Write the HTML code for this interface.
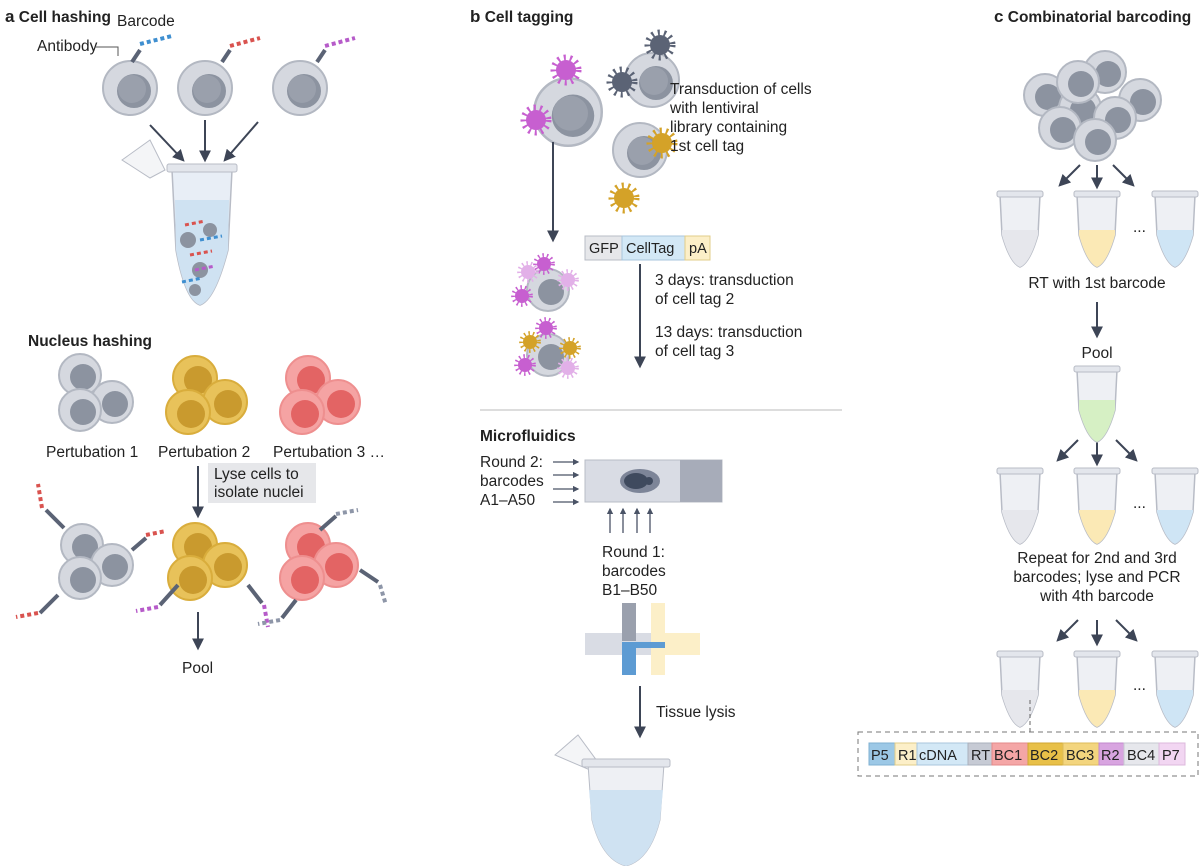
<!DOCTYPE html>
<html><head><meta charset="utf-8"><style>
html,body{margin:0;padding:0;background:#fff}
svg{display:block;font-family:"Liberation Sans",sans-serif;font-size:15.5px;fill:#222}
.b{font-weight:bold;font-size:15.5px}
</style></head><body>
<svg width="1200" height="866" viewBox="0 0 1200 866" xmlns="http://www.w3.org/2000/svg">
<defs>
<marker id="ah" viewBox="0 0 10 10" refX="8" refY="5" markerWidth="6" markerHeight="6" orient="auto"><path d="M0,0L10,5L0,10z" fill="#3d4556"/></marker>
<marker id="as" viewBox="0 0 10 10" refX="8" refY="5" markerWidth="5" markerHeight="5" orient="auto"><path d="M0,0L10,5L0,10z" fill="#4a5366"/></marker>
<g id="cg"><circle r="27" fill="#d5d8df" stroke="#b3b8c2" stroke-width="2"/><circle cx="4" cy="3" r="17" fill="#8c93a0"/><circle cx="2" cy="1" r="14" fill="#9aa0ac"/></g>
<g id="cy"><circle r="22" fill="#e8c25a" stroke="#d9ad3c" stroke-width="2"/><circle cx="3" cy="2" r="14" fill="#c99a2e"/></g>
<g id="cr"><circle r="22" fill="#f5a3a3" stroke="#ee8f8f" stroke-width="2"/><circle cx="3" cy="2" r="14" fill="#e36464"/></g>
<g id="cs"><circle r="21" fill="#d5d8df" stroke="#b3b8c2" stroke-width="2"/><circle cx="3" cy="2" r="13" fill="#8c93a0"/></g>
<g id="tube"><path d="M-20,0 L20,0 L18,40 Q10,68 0,72 Q-10,68 -18,40 Z" fill="#eef0f4" stroke="#b8bcc6" stroke-width="1.5"/><rect x="-23" y="-4" width="46" height="6" rx="2" fill="#e3e6ec" stroke="#b8bcc6"/></g>
<g id="vir"><circle r="12" stroke="currentColor" stroke-width="7" stroke-dasharray="2 4" fill="none"/><circle r="10"/></g>
</defs>

<!-- Panel a -->
<text x="5" y="22" class="b"><tspan font-size="17">a</tspan>  Cell hashing</text>
<text x="117" y="26">Barcode</text>
<text x="37" y="51">Antibody</text>
<path d="M95,47 H118 V56" stroke="#555" fill="none"/>
<use href="#cg" x="130" y="88"/><use href="#cg" x="205" y="88"/><use href="#cg" x="300" y="88"/>
<g stroke="#5b6375" stroke-width="4" fill="none">
<path d="M132,62 L140,50 M222,62 L230,50 M317,62 L325,50"/></g>
<path d="M140,44 l32,-8" stroke="#3f8fd0" stroke-width="4" stroke-dasharray="4 3"/>
<path d="M230,46 l30,-8" stroke="#d9534f" stroke-width="4" stroke-dasharray="4 3"/>
<path d="M325,46 l30,-8" stroke="#b65bc9" stroke-width="4" stroke-dasharray="4 3"/>
<g stroke="#3d4556" stroke-width="2" marker-end="url(#ah)">
<line x1="150" y1="125" x2="183" y2="160"/><line x1="205" y1="120" x2="205" y2="160"/><line x1="258" y1="122" x2="225" y2="160"/></g>
<path d="M122,160 L150,140 L165,170 L150,178 Z" fill="#f4f5f7" stroke="#b8bcc6"/>
<path d="M172,170 L232,170 L228,250 Q215,300 200,305 Q185,300 176,250 Z" fill="#e8eef6" stroke="#b8bcc6" stroke-width="1.5"/>
<path d="M175,200 L229,200 L228,250 Q215,300 200,305 Q185,300 176,250 Z" fill="#cfe2f2"/>
<rect x="167" y="164" width="70" height="8" rx="2" fill="#e3e6ec" stroke="#b8bcc6"/>
<g fill="#8c93a0"><circle cx="188" cy="240" r="8"/><circle cx="200" cy="270" r="8"/><circle cx="210" cy="230" r="7"/><circle cx="195" cy="290" r="6"/></g>
<g stroke-width="3" stroke-dasharray="4 3"><path d="M185,225 l20,-4" stroke="#d9534f"/><path d="M190,255 l22,-4" stroke="#d9534f"/><path d="M195,270 l20,-4" stroke="#b65bc9"/><path d="M182,282 l20,-4" stroke="#3f8fd0"/><path d="M200,240 l22,-4" stroke="#3f8fd0"/></g>

<text x="28" y="346" class="b">Nucleus hashing</text>
<use href="#cs" x="80" y="375"/><use href="#cs" x="112" y="402"/><use href="#cs" x="80" y="410"/>
<use href="#cy" x="195" y="378"/><use href="#cy" x="225" y="402"/><use href="#cy" x="188" y="412"/>
<use href="#cr" x="308" y="378"/><use href="#cr" x="338" y="402"/><use href="#cr" x="302" y="412"/>
<text x="46" y="457">Pertubation 1</text><text x="158" y="457">Pertubation 2</text><text x="273" y="457">Pertubation 3 …</text>
<line x1="198" y1="466" x2="198" y2="516" stroke="#3d4556" stroke-width="2" marker-end="url(#ah)"/>
<rect x="208" y="463" width="108" height="40" fill="#e6e7ea"/>
<text x="214" y="479">Lyse cells to</text><text x="214" y="497">isolate nuclei</text>
<use href="#cs" x="82" y="545"/><use href="#cs" x="112" y="565"/><use href="#cs" x="80" y="578"/>
<use href="#cy" x="195" y="545"/><use href="#cy" x="225" y="565"/><use href="#cy" x="190" y="578"/>
<use href="#cr" x="308" y="545"/><use href="#cr" x="336" y="565"/><use href="#cr" x="302" y="578"/>
<g stroke="#5b6375" stroke-width="4" fill="none"><path d="M64,528 l-18,-18 M132,550 l14,-12 M58,595 l-18,18 M178,585 l-18,20 M248,585 l14,18 M320,530 l16,-14 M296,600 l-14,18 M360,570 l18,12"/></g>
<g stroke-width="4" stroke-dasharray="4 3" fill="none"><path d="M42,508 l-4,-24" stroke="#d9534f"/><path d="M146,535 l20,-4" stroke="#d9534f"/><path d="M38,613 l-22,4" stroke="#d9534f"/><path d="M158,607 l-22,4" stroke="#b65bc9"/><path d="M264,605 l4,22" stroke="#b65bc9"/><path d="M336,514 l22,-4" stroke="#8e96a8"/><path d="M280,620 l-22,4" stroke="#8e96a8"/><path d="M380,585 l6,20" stroke="#8e96a8"/></g>
<line x1="198" y1="612" x2="198" y2="648" stroke="#3d4556" stroke-width="2" marker-end="url(#ah)"/>
<text x="182" y="673">Pool</text>

<!-- Panel b -->
<text x="470" y="22" class="b"><tspan font-size="17">b</tspan>  Cell tagging</text>
<use href="#cg" transform="translate(568,112) scale(1.25)"/>
<use href="#cg" x="652" y="80"/><use href="#cg" x="640" y="150"/>
<g color="#c75fd0" fill="#c75fd0"><use href="#vir" x="566" y="70"/><use href="#vir" x="536" y="120"/></g>
<g color="#5b6375" fill="#5b6375"><use href="#vir" x="660" y="45"/><use href="#vir" x="622" y="82"/></g>
<g color="#d4a228" fill="#d4a228"><use href="#vir" x="662" y="143"/><use href="#vir" x="624" y="198"/></g>
<text x="670" y="94">Transduction of cells</text><text x="670" y="113">with lentiviral</text><text x="670" y="132">library containing</text><text x="670" y="151">1st cell tag</text>
<line x1="553" y1="142" x2="553" y2="240" stroke="#3d4556" stroke-width="2" marker-end="url(#ah)"/>
<rect x="585" y="236" width="37" height="24" fill="#e6e7ea" stroke="#b8bcc6"/><rect x="622" y="236" width="63" height="24" fill="#d3e8f6" stroke="#a9c6dc"/><rect x="685" y="236" width="25" height="24" fill="#fcefc8" stroke="#e0cc8a"/>
<text x="589" y="253" font-size="14.5">GFP</text><text x="626" y="253" font-size="14.5">CellTag</text><text x="689" y="253" font-size="14.5">pA</text>
<use href="#cs" x="548" y="290"/><use href="#cs" x="548" y="355"/>
<g color="#c75fd0" fill="#c75fd0"><use href="#vir" transform="translate(544,264) scale(.7)"/><use href="#vir" transform="translate(522,296) scale(.7)"/><use href="#vir" transform="translate(546,328) scale(.7)"/><use href="#vir" transform="translate(525,365) scale(.7)"/></g>
<g color="#e2b0e8" fill="#e2b0e8"><use href="#vir" transform="translate(568,280) scale(.7)"/><use href="#vir" transform="translate(528,272) scale(.7)"/><use href="#vir" transform="translate(568,368) scale(.7)"/></g>
<g color="#d4a228" fill="#d4a228"><use href="#vir" transform="translate(530,342) scale(.7)"/><use href="#vir" transform="translate(570,348) scale(.7)"/></g>
<line x1="640" y1="264" x2="640" y2="366" stroke="#3d4556" stroke-width="2" marker-end="url(#ah)"/>
<text x="655" y="285">3 days: transduction</text><text x="655" y="304">of cell tag 2</text>
<text x="655" y="337">13 days: transduction</text><text x="655" y="356">of cell tag 3</text>
<line x1="480" y1="410" x2="842" y2="410" stroke="#bbb"/>
<text x="480" y="441" class="b">Microfluidics</text>
<text x="480" y="467">Round 2:</text><text x="480" y="486">barcodes</text><text x="480" y="505">A1–A50</text>
<g stroke="#4a5366" stroke-width="1.3" marker-end="url(#as)"><line x1="553" y1="462" x2="578" y2="462"/><line x1="553" y1="475" x2="578" y2="475"/><line x1="553" y1="489" x2="578" y2="489"/><line x1="553" y1="502" x2="578" y2="502"/>
<line x1="610" y1="533" x2="610" y2="509"/><line x1="623" y1="533" x2="623" y2="509"/><line x1="637" y1="533" x2="637" y2="509"/><line x1="650" y1="533" x2="650" y2="509"/></g>
<rect x="585" y="460" width="137" height="42" fill="#d9dce4" stroke="#b8bcc6"/>
<rect x="680" y="460" width="42" height="42" fill="#a7acb9"/>
<ellipse cx="640" cy="481" rx="20" ry="12" fill="#7d8598"/><ellipse cx="636" cy="481" rx="12" ry="8" fill="#3f4a5e"/><circle cx="649" cy="481" r="4" fill="#3f4a5e"/>
<text x="602" y="557">Round 1:</text><text x="602" y="576">barcodes</text><text x="602" y="595">B1–B50</text>
<rect x="585" y="633" width="115" height="22" fill="#d9dce4"/>
<rect x="622" y="603" width="14" height="38" fill="#9aa0ad"/>
<rect x="651" y="603" width="14" height="72" fill="#fcefc8"/>
<rect x="665" y="633" width="35" height="22" fill="#fcefc8"/>
<rect x="622" y="645" width="14" height="30" fill="#5d9bd3"/>
<rect x="622" y="642" width="43" height="6" fill="#5d9bd3"/>
<line x1="640" y1="686" x2="640" y2="736" stroke="#3d4556" stroke-width="2" marker-end="url(#ah)"/>
<text x="656" y="717">Tissue lysis</text>
<path d="M555,755 L578,735 L600,765 L590,770 Z" fill="#f4f5f7" stroke="#b8bcc6"/>
<path d="M588,764 L664,764 L660,820 Q650,860 626,866 Q602,860 592,820 Z" fill="#eef0f4" stroke="#b8bcc6"/>
<path d="M589,790 L663,790 L660,820 Q650,860 626,866 Q602,860 592,820 Z" fill="#cfe2f2"/>
<rect x="582" y="759" width="88" height="8" rx="2" fill="#e3e6ec" stroke="#b8bcc6"/>

<!-- Panel c -->
<text x="994" y="22" class="b"><tspan font-size="17">c</tspan>  Combinatorial barcoding</text>
<use href="#cs" x="1045" y="95"/><use href="#cs" x="1105" y="72"/><use href="#cs" x="1140" y="100"/><use href="#cs" x="1080" y="108"/><use href="#cs" x="1060" y="128"/><use href="#cs" x="1115" y="118"/><use href="#cs" x="1095" y="140"/><use href="#cs" x="1078" y="82"/>
<g stroke="#3d4556" stroke-width="2" marker-end="url(#ah)">
<line x1="1080" y1="165" x2="1060" y2="185"/><line x1="1097" y1="165" x2="1097" y2="187"/><line x1="1113" y1="165" x2="1133" y2="185"/>
<line x1="1097" y1="302" x2="1097" y2="336"/>
<line x1="1078" y1="440" x2="1058" y2="460"/><line x1="1097" y1="440" x2="1097" y2="464"/><line x1="1116" y1="440" x2="1136" y2="460"/>
<line x1="1078" y1="620" x2="1058" y2="640"/><line x1="1097" y1="620" x2="1097" y2="644"/><line x1="1116" y1="620" x2="1136" y2="640"/></g>
<use href="#tube" x="1020" y="195"/><use href="#tube" x="1097" y="195"/><use href="#tube" x="1175" y="195"/>
<path d="M1079,230 L1115,230 L1115,235 Q1107,263 1097,267 Q1087,263 1079,235Z" fill="#fbe9b5"/>
<path d="M1157,230 L1193,230 L1193,235 Q1185,263 1175,267 Q1165,263 1157,235Z" fill="#cfe5f5"/>
<path d="M1002,230 L1038,230 L1038,235 Q1030,263 1020,267 Q1010,263 1002,235Z" fill="#e6e7ec"/>
<text x="1133" y="232">...</text>
<text x="1097" y="288" text-anchor="middle">RT with 1st barcode</text>
<text x="1097" y="358" text-anchor="middle">Pool</text>
<use href="#tube" x="1097" y="370"/>
<path d="M1079,400 L1115,400 L1115,410 Q1107,438 1097,442 Q1087,438 1079,410Z" fill="#d6f0c4"/>
<use href="#tube" x="1020" y="472"/><use href="#tube" x="1097" y="472"/><use href="#tube" x="1175" y="472"/>
<path d="M1079,510 L1115,510 L1115,512 Q1107,540 1097,544 Q1087,540 1079,512Z" fill="#fbe9b5"/>
<path d="M1157,510 L1193,510 L1193,512 Q1185,540 1175,544 Q1165,540 1157,512Z" fill="#cfe5f5"/>
<path d="M1002,510 L1038,510 L1038,512 Q1030,540 1020,544 Q1010,540 1002,512Z" fill="#e6e7ec"/>
<text x="1133" y="508">...</text>
<text x="1097" y="563" text-anchor="middle">Repeat for 2nd and 3rd</text>
<text x="1097" y="582" text-anchor="middle">barcodes; lyse and PCR</text>
<text x="1097" y="601" text-anchor="middle">with 4th barcode</text>
<use href="#tube" x="1020" y="655"/><use href="#tube" x="1097" y="655"/><use href="#tube" x="1175" y="655"/>
<path d="M1079,690 L1115,690 L1115,695 Q1107,723 1097,727 Q1087,723 1079,695Z" fill="#fbe9b5"/>
<path d="M1157,690 L1193,690 L1193,695 Q1185,723 1175,727 Q1165,723 1157,695Z" fill="#cfe5f5"/>
<path d="M1002,690 L1038,690 L1038,695 Q1030,723 1020,727 Q1010,723 1002,695Z" fill="#e6e7ec"/>
<text x="1133" y="690">...</text>
<path d="M1030,700 V732" stroke="#666" stroke-dasharray="4 3" fill="none"/>
<rect x="858" y="732" width="340" height="44" fill="none" stroke="#777" stroke-dasharray="5 4"/>
<g stroke-width="1">
<rect x="869" y="743" width="26" height="22" fill="#9cc8e6" stroke="#7fb0d2"/>
<rect x="895" y="743" width="22" height="22" fill="#fcefc8" stroke="#e0cc8a"/>
<rect x="917" y="743" width="51" height="22" fill="#d3e8f6" stroke="#a9c6dc"/>
<rect x="968" y="743" width="24" height="22" fill="#c6cad4" stroke="#aab0bc"/>
<rect x="992" y="743" width="36" height="22" fill="#f4a6a6" stroke="#e38a8a"/>
<rect x="1028" y="743" width="35" height="22" fill="#e8c048" stroke="#d1a632"/>
<rect x="1063" y="743" width="36" height="22" fill="#f3d57e" stroke="#dcbb5a"/>
<rect x="1099" y="743" width="25" height="22" fill="#d8a4e0" stroke="#c289cc"/>
<rect x="1124" y="743" width="35" height="22" fill="#e6e7ec" stroke="#c6c9d0"/>
<rect x="1159" y="743" width="26" height="22" fill="#f2d6f2" stroke="#dcb8dc"/></g>
<g font-size="14.5"><text x="871" y="760">P5</text><text x="898" y="760">R1</text><text x="919" y="760">cDNA</text><text x="971" y="760">RT</text><text x="994" y="760">BC1</text><text x="1030" y="760">BC2</text><text x="1066" y="760">BC3</text><text x="1101" y="760">R2</text><text x="1127" y="760">BC4</text><text x="1162" y="760">P7</text></g>
</svg>
</body></html>
